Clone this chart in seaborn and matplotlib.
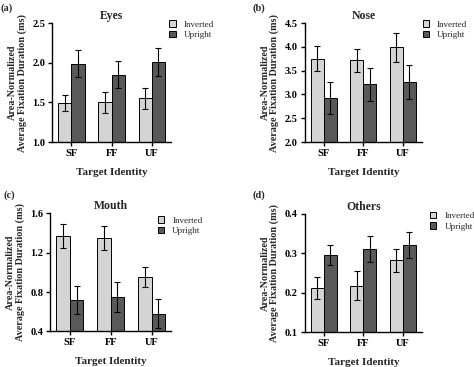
import pandas as pd
import matplotlib
matplotlib.use('Agg')
import matplotlib.pyplot as plt
import seaborn as sns

# Values
targets = ['SF', 'FF', 'UF']
conditions = ['Inverted', 'Upright']

eyes_inv = [1.49, 1.50, 1.55]
eyes_up = [1.99, 1.85, 2.01]
eyes_inv_err = [0.10, 0.13, 0.13]
eyes_up_err = [0.17, 0.17, 0.18]

nose_inv = [3.75, 3.72, 3.99]
nose_up = [2.92, 3.21, 3.26]
nose_inv_err = [0.26, 0.24, 0.30]
nose_up_err = [0.34, 0.34, 0.36]

mouth_inv = [1.37, 1.35, 0.95]
mouth_up = [0.72, 0.75, 0.58]
mouth_inv_err = [0.125, 0.12, 0.10]
mouth_up_err = [0.14, 0.15, 0.145]

others_inv = [0.211, 0.218, 0.282]
others_up = [0.296, 0.310, 0.321]
others_inv_err = [0.028, 0.037, 0.030]
others_up_err = [0.025, 0.033, 0.033]

panels = [
    ('(a)', 'Eyes', eyes_inv, eyes_up, eyes_inv_err, eyes_up_err, [1.0, 1.5, 2.0, 2.5]),
    ('(b)', 'Nose', nose_inv, nose_up, nose_inv_err, nose_up_err, [2.0, 2.5, 3.0, 3.5, 4.0, 4.5]),
    ('(c)', 'Mouth', mouth_inv, mouth_up, mouth_inv_err, mouth_up_err, [0.4, 0.8, 1.2, 1.6]),
    ('(d)', 'Others', others_inv, others_up, others_inv_err, others_up_err, [0.1, 0.2, 0.3, 0.4]),
]

sns.set_style('ticks')
plt.rcParams['font.family'] = ['Liberation Serif', 'DejaVu Serif']

palette = {'Inverted': '#d4d4d4', 'Upright': '#595959'}

fig = plt.figure(figsize=(4.74, 3.67), dpi=100)

# axes boxes [left, bottom, width, height] in figure fractions
boxes = [
    [0.110, 0.613, 0.251, 0.324],
    [0.643, 0.613, 0.247, 0.324],
    [0.106, 0.097, 0.255, 0.322],
    [0.643, 0.095, 0.247, 0.322],
]
letter_pos = [(0.002, 0.99), (0.532, 0.99), (0.008, 0.482), (0.532, 0.482)]
legend_anchor = [(0.955, 1.055), (0.975, 1.055), (0.86, 1.005), (1.04, 1.05)]

for i, (letter, title, inv, up, inv_err, up_err, yticks) in enumerate(panels):
    ax = fig.add_axes(boxes[i])
    df = pd.DataFrame({
        'target': targets * 2,
        'cond': ['Inverted'] * 3 + ['Upright'] * 3,
        'value': inv + up,
        'err': inv_err + up_err,
    })
    sns.barplot(data=df, x='target', y='value', hue='cond', order=targets,
                hue_order=conditions, palette=palette, width=0.66,
                edgecolor='black', linewidth=0.7, errorbar=None, ax=ax)

    # error bars at the bar centres
    bars = [p for p in ax.patches if p.get_height() > 0][:6]
    xs = [b.get_x() + b.get_width() / 2 for b in bars]
    ax.errorbar(xs, df['value'], yerr=df['err'], fmt='none', ecolor='black',
                elinewidth=0.8, capsize=2.5, capthick=0.8, zorder=5)

    ax.set_ylim(yticks[0], yticks[-1])
    ax.set_yticks(yticks)
    ax.set_yticklabels(['%.1f' % t for t in yticks])
    ax.set_xlim(-0.48, 2.48)
    sns.despine(ax=ax)
    for s in ['left', 'bottom']:
        ax.spines[s].set_linewidth(1.0)
        ax.spines[s].set_color('black')
    ax.tick_params(axis='both', direction='out', length=3, width=1.0,
                   labelsize=7.5, colors='black', pad=2)
    for lab in ax.get_xticklabels() + ax.get_yticklabels():
        lab.set_fontweight('bold')

    ax.set_title(title, fontsize=8.5, fontweight='bold', pad=3)
    ax.set_xlabel('Target Identity', fontsize=8, fontweight='bold', labelpad=7)
    ax.set_ylabel('Area-Normalized\nAverage Fixation Duration (ms)',
                  fontsize=7.3, fontweight='bold', labelpad=4, linespacing=1.0)

    handles, labels = ax.get_legend_handles_labels()
    ax.legend(handles, labels, loc='upper left', bbox_to_anchor=legend_anchor[i],
              frameon=False, fontsize=6.5, handlelength=0.7, handleheight=0.7,
              handletextpad=0.9, labelspacing=0.25, borderaxespad=0)

    fig.text(letter_pos[i][0], letter_pos[i][1], letter, fontsize=7.5,
             fontweight='bold', va='top', ha='left')

fig.savefig('out.png', dpi=100)
